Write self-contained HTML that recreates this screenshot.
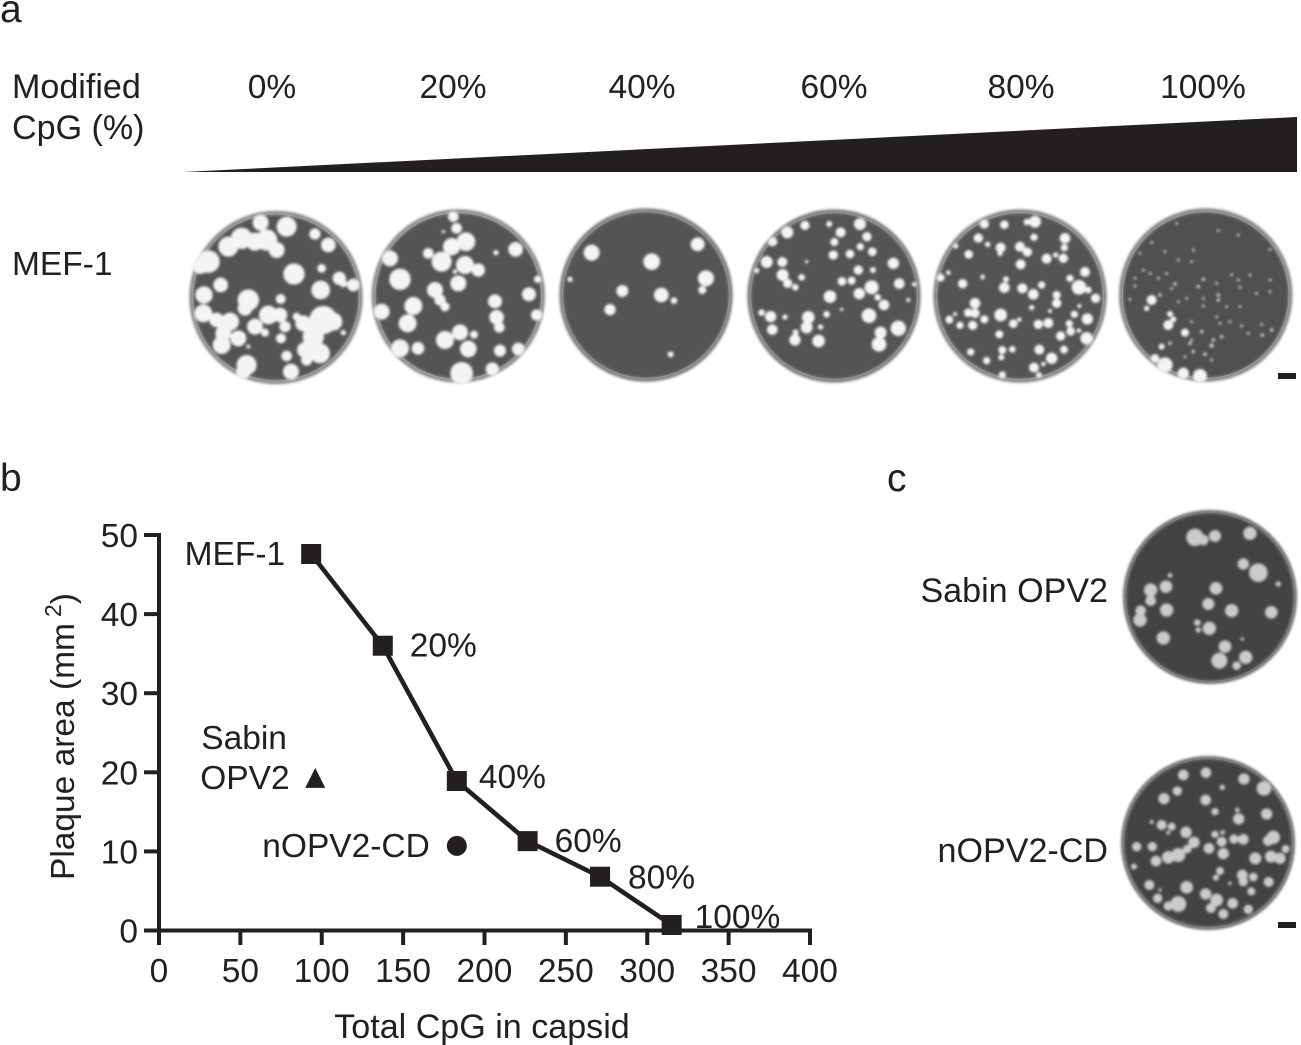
<!DOCTYPE html>
<html lang="en">
<head>
<meta charset="utf-8">
<title>Plaque phenotype versus CpG content</title>
<style>
html,body{margin:0;padding:0;background:#fff;width:1301px;height:1045px;overflow:hidden}
svg{display:block}
text{font-family:"Liberation Sans",Arial,sans-serif;font-size:33.5px;fill:#231f20}
text.big{font-size:34.1px}
text.letter{font-size:39px}
.col{fill:#f4f4f4;stroke:#f4f4f4;stroke-width:4}
.col-c{fill:#cbcbcb;stroke:#cbcbcb;stroke-width:4}
</style>
</head>
<body>
<svg id="fig" xmlns="http://www.w3.org/2000/svg" width="1301" height="1045" viewBox="0 0 1301 1045">
<defs>
<filter id="b" x="-10%" y="-10%" width="120%" height="120%"><feGaussianBlur stdDeviation="3.8"/></filter>
<filter id="r" x="-10%" y="-10%" width="120%" height="120%"><feGaussianBlur stdDeviation="1.2"/></filter>
</defs>
<rect width="1301" height="1045" fill="#fff"/>

<g>
<text class="letter" x="0" y="22">a</text>
<text class="big" x="12" y="98">Modified</text>
<text class="big" x="12" y="139">CpG (%)</text>
<text x="272" y="98" text-anchor="middle">0%</text>
<text x="453" y="98" text-anchor="middle">20%</text>
<text x="642" y="98" text-anchor="middle">40%</text>
<text x="834" y="98" text-anchor="middle">60%</text>
<text x="1021" y="98" text-anchor="middle">80%</text>
<text x="1203" y="98" text-anchor="middle">100%</text>
<polygon points="183,172 1297,172 1297,117" fill="#231f20"/>
<text x="12" y="275">MEF-1</text>

<g>
<circle cx="276" cy="297.5" r="83" fill="#545456"/>
<circle cx="276" cy="297.5" r="84.5" fill="none" stroke="#8c8c8c" stroke-width="4.5" filter="url(#r)"/>
<g class="col" transform="translate(180,200) scale(.3333)" filter="url(#b)">
<circle cx="320" cy="80" r="28"/><circle cx="242" cy="68" r="22"/><circle cx="405" cy="102" r="15"/><circle cx="445" cy="135" r="20"/><circle cx="185" cy="115" r="30"/><circle cx="145" cy="140" r="28"/><circle cx="225" cy="125" r="25"/><circle cx="260" cy="120" r="30"/><circle cx="290" cy="150" r="22"/><circle cx="85" cy="185" r="32"/><circle cx="60" cy="200" r="20"/><circle cx="342" cy="222" r="30"/><circle cx="425" cy="205" r="11"/><circle cx="478" cy="235" r="18"/><circle cx="490" cy="250" r="10"/><circle cx="520" cy="255" r="17"/><circle cx="122" cy="255" r="20"/><circle cx="422" cy="270" r="26"/><circle cx="72" cy="285" r="24"/><circle cx="205" cy="300" r="30"/><circle cx="195" cy="325" r="20"/><circle cx="302" cy="297" r="13"/><circle cx="70" cy="340" r="25"/><circle cx="110" cy="360" r="20"/><circle cx="150" cy="365" r="25"/><circle cx="130" cy="400" r="22"/><circle cx="125" cy="435" r="25"/><circle cx="265" cy="345" r="26"/><circle cx="300" cy="345" r="20"/><circle cx="315" cy="380" r="15"/><circle cx="225" cy="380" r="22"/><circle cx="255" cy="398" r="10"/><circle cx="175" cy="415" r="22"/><circle cx="303" cy="415" r="13"/><circle cx="350" cy="350" r="10"/><circle cx="370" cy="370" r="22"/><circle cx="430" cy="360" r="40"/><circle cx="460" cy="365" r="25"/><circle cx="400" cy="410" r="30"/><circle cx="375" cy="450" r="22"/><circle cx="420" cy="460" r="28"/><circle cx="380" cy="480" r="15"/><circle cx="320" cy="468" r="14"/><circle cx="200" cy="495" r="28"/><circle cx="190" cy="515" r="20"/><circle cx="333" cy="515" r="22"/><circle cx="205" cy="440" r="4"/><circle cx="490" cy="398" r="6"/>
</g></g>

<g>
<circle cx="458.3" cy="296" r="83" fill="#545456"/>
<circle cx="458.3" cy="296" r="84.5" fill="none" stroke="#8c8c8c" stroke-width="4.5" filter="url(#r)"/>
<g class="col" transform="translate(180,200) scale(.3333)" filter="url(#b)">
<circle cx="820" cy="50" r="14"/><circle cx="830" cy="85" r="14"/><circle cx="858" cy="125" r="26"/><circle cx="815" cy="140" r="24"/><circle cx="785" cy="185" r="28"/><circle cx="745" cy="160" r="14"/><circle cx="1007" cy="148" r="20"/><circle cx="948" cy="158" r="6"/><circle cx="630" cy="175" r="22"/><circle cx="855" cy="195" r="25"/><circle cx="895" cy="210" r="18"/><circle cx="660" cy="238" r="30"/><circle cx="1073" cy="238" r="9"/><circle cx="835" cy="250" r="22"/><circle cx="765" cy="270" r="22"/><circle cx="780" cy="300" r="15"/><circle cx="795" cy="320" r="12"/><circle cx="1047" cy="283" r="19"/><circle cx="945" cy="304" r="19"/><circle cx="700" cy="318" r="25"/><circle cx="605" cy="335" r="22"/><circle cx="950" cy="352" r="20"/><circle cx="958" cy="382" r="14"/><circle cx="1070" cy="345" r="15"/><circle cx="683" cy="370" r="25"/><circle cx="840" cy="397" r="22"/><circle cx="795" cy="420" r="25"/><circle cx="882" cy="404" r="10"/><circle cx="865" cy="447" r="23"/><circle cx="714" cy="445" r="17"/><circle cx="660" cy="445" r="25"/><circle cx="960" cy="452" r="16"/><circle cx="1015" cy="447" r="17"/><circle cx="937" cy="507" r="18"/><circle cx="845" cy="520" r="32"/><circle cx="825" cy="215" r="5"/><circle cx="790" cy="95" r="3"/>
</g></g>

<g>
<circle cx="646" cy="295" r="83" fill="#545456"/>
<circle cx="646" cy="295" r="84.5" fill="none" stroke="#7e7e7e" stroke-width="4.5" filter="url(#r)"/>
<g class="col" transform="translate(550,200) scale(.3333)" filter="url(#b)">
<circle cx="125" cy="158" r="22"/><circle cx="443" cy="133" r="19"/><circle cx="305" cy="185" r="23"/><circle cx="468" cy="235" r="22"/><circle cx="457" cy="270" r="10"/><circle cx="217" cy="273" r="16"/><circle cx="334" cy="285" r="20"/><circle cx="180" cy="329" r="15"/><circle cx="372" cy="302" r="8"/><circle cx="362" cy="463" r="7"/><circle cx="60" cy="238" r="6"/>
</g></g>

<g>
<circle cx="834" cy="296" r="83" fill="#545456"/>
<circle cx="834" cy="296" r="84.5" fill="none" stroke="#7e7e7e" stroke-width="4.5" filter="url(#r)"/>
<g class="col" transform="translate(550,200) scale(.3333)" filter="url(#b)">
<circle cx="930" cy="72" r="16"/><circle cx="765" cy="76" r="12"/><circle cx="712" cy="97" r="16"/><circle cx="668" cy="125" r="12"/><circle cx="838" cy="72" r="7"/><circle cx="872" cy="97" r="13"/><circle cx="853" cy="126" r="10"/><circle cx="951" cy="110" r="12"/><circle cx="931" cy="140" r="9"/><circle cx="967" cy="155" r="11"/><circle cx="850" cy="165" r="12"/><circle cx="900" cy="162" r="11"/><circle cx="650" cy="186" r="16"/><circle cx="697" cy="186" r="13"/><circle cx="1030" cy="190" r="15"/><circle cx="925" cy="210" r="12"/><circle cx="969" cy="210" r="7"/><circle cx="698" cy="225" r="16"/><circle cx="713" cy="250" r="12"/><circle cx="755" cy="232" r="8"/><circle cx="736" cy="262" r="8"/><circle cx="876" cy="244" r="11"/><circle cx="905" cy="242" r="10"/><circle cx="1048" cy="251" r="14"/><circle cx="965" cy="262" r="19"/><circle cx="928" cy="281" r="15"/><circle cx="840" cy="290" r="17"/><circle cx="983" cy="292" r="8"/><circle cx="1002" cy="315" r="14"/><circle cx="635" cy="338" r="8"/><circle cx="662" cy="350" r="15"/><circle cx="705" cy="351" r="6"/><circle cx="830" cy="343" r="8"/><circle cx="957" cy="347" r="20"/><circle cx="775" cy="352" r="17"/><circle cx="770" cy="382" r="16"/><circle cx="812" cy="381" r="6"/><circle cx="667" cy="389" r="14"/><circle cx="1045" cy="385" r="21"/><circle cx="992" cy="398" r="16"/><circle cx="987" cy="433" r="20"/><circle cx="735" cy="420" r="15"/><circle cx="737" cy="397" r="7"/><circle cx="806" cy="423" r="17"/><circle cx="875" cy="328" r="3"/><circle cx="770" cy="185" r="3"/><circle cx="1075" cy="300" r="4"/><circle cx="620" cy="212" r="6"/><circle cx="1093" cy="253" r="5"/>
</g></g>

<g>
<circle cx="1020" cy="296" r="83" fill="#545456"/>
<circle cx="1020" cy="296" r="84.5" fill="none" stroke="#868686" stroke-width="4.5" filter="url(#r)"/>
<g class="col" transform="translate(925,200) scale(.3333)" filter="url(#b)">
<circle cx="178" cy="72" r="12"/><circle cx="238" cy="74" r="11"/><circle cx="330" cy="65" r="16"/><circle cx="306" cy="66" r="8"/><circle cx="160" cy="114" r="12"/><circle cx="131" cy="163" r="11"/><circle cx="188" cy="133" r="6"/><circle cx="227" cy="143" r="13"/><circle cx="225" cy="160" r="6"/><circle cx="285" cy="140" r="13"/><circle cx="307" cy="156" r="12"/><circle cx="327" cy="112" r="9"/><circle cx="420" cy="115" r="14"/><circle cx="418" cy="143" r="9"/><circle cx="365" cy="176" r="13"/><circle cx="415" cy="175" r="12"/><circle cx="392" cy="165" r="6"/><circle cx="287" cy="193" r="13"/><circle cx="480" cy="216" r="13"/><circle cx="47" cy="233" r="10"/><circle cx="70" cy="218" r="5"/><circle cx="113" cy="251" r="12"/><circle cx="173" cy="231" r="5"/><circle cx="243" cy="238" r="7"/><circle cx="238" cy="263" r="14"/><circle cx="292" cy="265" r="13"/><circle cx="350" cy="255" r="9"/><circle cx="325" cy="283" r="14"/><circle cx="435" cy="235" r="9"/><circle cx="462" cy="262" r="20"/><circle cx="490" cy="270" r="8"/><circle cx="512" cy="295" r="12"/><circle cx="395" cy="285" r="10"/><circle cx="395" cy="310" r="12"/><circle cx="150" cy="310" r="14"/><circle cx="130" cy="338" r="11"/><circle cx="150" cy="340" r="12"/><circle cx="320" cy="323" r="6"/><circle cx="227" cy="345" r="17"/><circle cx="178" cy="358" r="10"/><circle cx="73" cy="359" r="10"/><circle cx="105" cy="376" r="9"/><circle cx="143" cy="376" r="12"/><circle cx="265" cy="371" r="11"/><circle cx="283" cy="359" r="5"/><circle cx="340" cy="373" r="12"/><circle cx="370" cy="369" r="13"/><circle cx="448" cy="343" r="9"/><circle cx="487" cy="357" r="15"/><circle cx="433" cy="371" r="9"/><circle cx="437" cy="394" r="11"/><circle cx="462" cy="392" r="5"/><circle cx="223" cy="403" r="10"/><circle cx="407" cy="408" r="12"/><circle cx="485" cy="415" r="17"/><circle cx="137" cy="456" r="9"/><circle cx="232" cy="450" r="10"/><circle cx="262" cy="448" r="8"/><circle cx="229" cy="472" r="7"/><circle cx="343" cy="449" r="13"/><circle cx="417" cy="449" r="10"/><circle cx="380" cy="475" r="15"/><circle cx="185" cy="482" r="9"/><circle cx="327" cy="503" r="13"/><circle cx="232" cy="525" r="9"/><circle cx="342" cy="525" r="7"/><circle cx="355" cy="492" r="5"/><circle cx="92" cy="138" r="6"/><circle cx="463" cy="318" r="4"/><circle cx="375" cy="333" r="4"/><circle cx="90" cy="342" r="4"/>
</g></g>

<g>
<circle cx="1205.7" cy="295" r="83" fill="#505052"/>
<circle cx="1205.7" cy="295" r="84.5" fill="none" stroke="#868686" stroke-width="4.5" filter="url(#r)"/>
<g class="col" transform="translate(925,200) scale(.3333)" filter="url(#b)">
<circle cx="680" cy="300" r="13"/><circle cx="665" cy="325" r="6"/><circle cx="730" cy="375" r="13"/><circle cx="735" cy="342" r="7"/><circle cx="745" cy="358" r="7"/><circle cx="780" cy="398" r="10"/><circle cx="720" cy="495" r="21"/><circle cx="690" cy="475" r="11"/><circle cx="775" cy="520" r="15"/><circle cx="825" cy="528" r="19"/><circle cx="710" cy="440" r="7"/>
<g fill="#d8d8d8" stroke="none"><circle cx="880" cy="92" r="4"/><circle cx="940" cy="105" r="4"/><circle cx="1035" cy="148" r="4"/><circle cx="720" cy="155" r="4"/><circle cx="805" cy="150" r="4"/><circle cx="760" cy="180" r="4"/><circle cx="800" cy="185" r="4"/><circle cx="655" cy="210" r="4"/><circle cx="675" cy="220" r="4"/><circle cx="700" cy="235" r="4"/><circle cx="725" cy="220" r="4"/><circle cx="630" cy="235" r="4"/><circle cx="630" cy="258" r="4"/><circle cx="750" cy="252" r="5"/><circle cx="740" cy="265" r="4"/><circle cx="820" cy="260" r="5"/><circle cx="835" cy="238" r="5"/><circle cx="940" cy="240" r="4"/><circle cx="945" cy="262" r="4"/><circle cx="975" cy="225" r="4"/><circle cx="1035" cy="240" r="4"/><circle cx="1035" cy="275" r="4"/><circle cx="995" cy="280" r="4"/><circle cx="880" cy="285" r="5"/><circle cx="880" cy="300" r="5"/><circle cx="835" cy="295" r="4"/><circle cx="785" cy="295" r="4"/><circle cx="705" cy="285" r="5"/><circle cx="615" cy="298" r="4"/><circle cx="760" cy="305" r="4"/><circle cx="835" cy="318" r="4"/><circle cx="905" cy="320" r="4"/><circle cx="945" cy="320" r="4"/><circle cx="875" cy="350" r="4"/><circle cx="915" cy="365" r="4"/><circle cx="885" cy="370" r="4"/><circle cx="950" cy="378" r="4"/><circle cx="1010" cy="373" r="4"/><circle cx="1040" cy="390" r="5"/><circle cx="970" cy="400" r="4"/><circle cx="1012" cy="405" r="5"/><circle cx="890" cy="410" r="5"/><circle cx="865" cy="420" r="5"/><circle cx="860" cy="437" r="6"/><circle cx="800" cy="365" r="4"/><circle cx="830" cy="395" r="5"/><circle cx="795" cy="430" r="5"/><circle cx="805" cy="455" r="5"/><circle cx="780" cy="470" r="4"/><circle cx="840" cy="463" r="5"/><circle cx="860" cy="480" r="4"/><circle cx="735" cy="430" r="5"/><circle cx="920" cy="225" r="4"/><circle cx="680" cy="127" r="4"/><circle cx="645" cy="160" r="4"/><circle cx="755" cy="70" r="4"/><circle cx="875" cy="250" r="4"/><circle cx="800" cy="420" r="4"/></g>
</g></g>
<rect x="1278" y="373" width="18" height="6" fill="#231f20"/>
</g>

<g id="chart">
<text class="letter" x="0" y="491">b</text>
</g>

<g>
<text class="letter" x="887" y="491">c</text>
<text class="big" x="1108" y="602" text-anchor="end">Sabin OPV2</text>
<text class="big" x="1108" y="862" text-anchor="end">nOPV2-CD</text>

<g>
<circle cx="1210" cy="597" r="84" fill="#434345"/>
<circle cx="1210" cy="597" r="85" fill="none" stroke="#6c6c6c" stroke-width="4" filter="url(#r)"/>
<g class="col-c" transform="translate(1110,500) scale(.3333)" filter="url(#b)">
<circle cx="255" cy="112" r="24"/><circle cx="280" cy="120" r="14"/><circle cx="315" cy="108" r="16"/><circle cx="420" cy="100" r="18"/><circle cx="400" cy="192" r="15"/><circle cx="445" cy="218" r="26"/><circle cx="168" cy="260" r="17"/><circle cx="122" cy="270" r="18"/><circle cx="122" cy="302" r="14"/><circle cx="318" cy="265" r="17"/><circle cx="295" cy="312" r="16"/><circle cx="170" cy="330" r="18"/><circle cx="365" cy="332" r="18"/><circle cx="484" cy="337" r="17"/><circle cx="92" cy="332" r="14"/><circle cx="90" cy="360" r="18"/><circle cx="262" cy="368" r="8"/><circle cx="265" cy="390" r="6"/><circle cx="298" cy="385" r="18"/><circle cx="160" cy="414" r="18"/><circle cx="345" cy="440" r="17"/><circle cx="328" cy="482" r="22"/><circle cx="407" cy="472" r="18"/><circle cx="380" cy="497" r="11"/><circle cx="180" cy="226" r="5"/><circle cx="505" cy="252" r="6"/><circle cx="397" cy="417" r="3"/>
</g></g>

<g>
<circle cx="1208" cy="843" r="84" fill="#434345"/>
<circle cx="1208" cy="843" r="85" fill="none" stroke="#6c6c6c" stroke-width="4" filter="url(#r)"/>
<g class="col-c" transform="translate(1110,750) scale(.3333)" filter="url(#b)">
<circle cx="220" cy="75" r="14"/><circle cx="288" cy="68" r="14"/><circle cx="402" cy="87" r="15"/><circle cx="462" cy="115" r="20"/><circle cx="202" cy="123" r="12"/><circle cx="337" cy="112" r="6"/><circle cx="162" cy="146" r="15"/><circle cx="287" cy="150" r="14"/><circle cx="315" cy="185" r="9"/><circle cx="382" cy="180" r="5"/><circle cx="386" cy="207" r="15"/><circle cx="470" cy="192" r="15"/><circle cx="155" cy="225" r="13"/><circle cx="185" cy="230" r="10"/><circle cx="228" cy="247" r="15"/><circle cx="175" cy="248" r="4"/><circle cx="125" cy="216" r="4"/><circle cx="315" cy="253" r="9"/><circle cx="338" cy="247" r="5"/><circle cx="372" cy="267" r="12"/><circle cx="400" cy="268" r="14"/><circle cx="335" cy="275" r="13"/><circle cx="252" cy="277" r="15"/><circle cx="232" cy="297" r="11"/><circle cx="297" cy="295" r="14"/><circle cx="80" cy="290" r="12"/><circle cx="127" cy="290" r="12"/><circle cx="490" cy="262" r="18"/><circle cx="475" cy="272" r="14"/><circle cx="340" cy="311" r="15"/><circle cx="175" cy="322" r="17"/><circle cx="205" cy="315" r="19"/><circle cx="138" cy="333" r="14"/><circle cx="436" cy="325" r="16"/><circle cx="483" cy="320" r="16"/><circle cx="510" cy="325" r="15"/><circle cx="527" cy="297" r="10"/><circle cx="72" cy="350" r="7"/><circle cx="330" cy="363" r="10"/><circle cx="318" cy="383" r="7"/><circle cx="397" cy="375" r="14"/><circle cx="400" cy="395" r="12"/><circle cx="430" cy="381" r="11"/><circle cx="476" cy="396" r="13"/><circle cx="118" cy="405" r="13"/><circle cx="230" cy="412" r="17"/><circle cx="424" cy="424" r="10"/><circle cx="143" cy="445" r="12"/><circle cx="287" cy="432" r="15"/><circle cx="320" cy="450" r="17"/><circle cx="368" cy="460" r="14"/><circle cx="175" cy="468" r="12"/><circle cx="205" cy="462" r="22"/><circle cx="303" cy="474" r="13"/><circle cx="340" cy="492" r="13"/><circle cx="415" cy="478" r="12"/><circle cx="360" cy="400" r="3"/><circle cx="150" cy="420" r="3"/>
</g></g>
<rect x="1278" y="922" width="18" height="6" fill="#231f20"/>
</g>
</svg>

<script>
var xTicks = [0, 50, 100, 150, 200, 250, 300, 350, 400];
var yTicks = [0, 10, 20, 30, 40, 50];
var totalCpg = [93.5, 137.5, 183, 226.5, 271, 315];
var plaqueArea = [47.6, 36, 18.9, 11.3, 6.8, 0.7];
var seriesLabels = ['MEF-1', '20%', '40%', '60%', '80%', '100%'];
var sabinCpg = [96];
var sabinArea = [19.3];
var nopvCpg = [183];
var nopvArea = [10.7];

var INK = '#231f20';
var NS = 'http://www.w3.org/2000/svg';
var chart = document.getElementById('chart');

function xScale(v) { return 159 + v * (810 - 159) / 400; }
function yScale(v) { return 930.5 - v * (930.5 - 535) / 50; }

function make(tag, attrs, name) {
  var el = document.createElementNS(NS, tag);
  for (var k in attrs) { el.setAttribute(k, attrs[k]); }
  
  
  chart.appendChild(el);
  return el;
}
function label(str, x, y, anchor, name) {
  var t = make('text', { x: x, y: y, 'text-anchor': anchor }, name);
  t.textContent = str;
  return t;
}

make('line', { x1: 159, y1: 533, x2: 159, y2: 932.5, stroke: INK, 'stroke-width': 4 }, 'y-axis-line');
make('line', { x1: 144, y1: 930.5, x2: 812, y2: 930.5, stroke: INK, 'stroke-width': 4 }, 'x-axis-line');

yTicks.forEach(function (v) {
  make('line', { x1: 144, y1: yScale(v), x2: 159, y2: yScale(v), stroke: INK, 'stroke-width': 4 }, 'y-tick-' + v);
  label(String(v), 138, yScale(v) + 12, 'end', 'y-tick-label-' + v);
});
xTicks.forEach(function (v) {
  make('line', { x1: xScale(v), y1: 930.5, x2: xScale(v), y2: 945, stroke: INK, 'stroke-width': 4 }, 'x-tick-' + v);
  label(String(v), xScale(v), 982, 'middle', 'x-tick-label-' + v);
});

var xTitle = label('Total CpG in capsid', 482, 1038, 'middle', 'x-axis-title');
xTitle.setAttribute('class', 'big');

var yTitle = make('text', { x: 74, y: 880, transform: 'rotate(-90 74 880)' }, 'y-axis-title');
yTitle.appendChild(document.createTextNode('Plaque area (mm'));
var sup = document.createElementNS(NS, 'tspan');
sup.setAttribute('dx', '6');
sup.setAttribute('dy', '-13');
sup.style.fontSize = '23px';
sup.textContent = '2';
yTitle.appendChild(sup);
var close = document.createElementNS(NS, 'tspan');
close.setAttribute('dy', '13');
close.textContent = ')';
yTitle.appendChild(close);

var pts = totalCpg.map(function (c, i) { return xScale(c) + ',' + yScale(plaqueArea[i]); }).join(' ');
make('polyline', { points: pts, fill: 'none', stroke: INK, 'stroke-width': 4.6, 'stroke-linejoin': 'miter' }, 'modified-cpg-line');
totalCpg.forEach(function (c, i) {
  make('rect', { x: xScale(c) - 10, y: yScale(plaqueArea[i]) - 10, width: 20, height: 20, fill: INK }, 'point-' + seriesLabels[i].toLowerCase().replace('%', '-percent'));
});

label(seriesLabels[0], xScale(totalCpg[0]) - 26, yScale(plaqueArea[0]) + 11, 'end', 'point-label-mef-1');
label(seriesLabels[1], xScale(totalCpg[1]) + 27, yScale(plaqueArea[1]) + 11, 'start', 'point-label-20');
label(seriesLabels[2], xScale(totalCpg[2]) + 22, yScale(plaqueArea[2]) + 7, 'start', 'point-label-40');
label(seriesLabels[3], xScale(totalCpg[3]) + 27, yScale(plaqueArea[3]) + 11, 'start', 'point-label-60');
label(seriesLabels[4], xScale(totalCpg[4]) + 28, yScale(plaqueArea[4]) + 12, 'start', 'point-label-80');
label(seriesLabels[5], xScale(totalCpg[5]) + 23, yScale(plaqueArea[5]) + 3, 'start', 'point-label-100');

var sx = xScale(sabinCpg[0]);
var sy = yScale(sabinArea[0]);
make('polygon', { points: (sx - 10) + ',' + (sy + 10) + ' ' + (sx + 10) + ',' + (sy + 10) + ' ' + sx + ',' + (sy - 10), fill: INK }, 'sabin-opv2-marker');
label('Sabin', sx - 114, sy - 29, 'start', 'sabin-label');
label('OPV2', sx - 115, sy + 11, 'start', 'opv2-label');

make('circle', { cx: xScale(nopvCpg[0]), cy: yScale(nopvArea[0]), r: 10, fill: INK }, 'nopv2-cd-marker');
label('nOPV2-CD', xScale(nopvCpg[0]) - 27, yScale(nopvArea[0]) + 11, 'end', 'nopv2-cd-label');
</script>
</body>
</html>
